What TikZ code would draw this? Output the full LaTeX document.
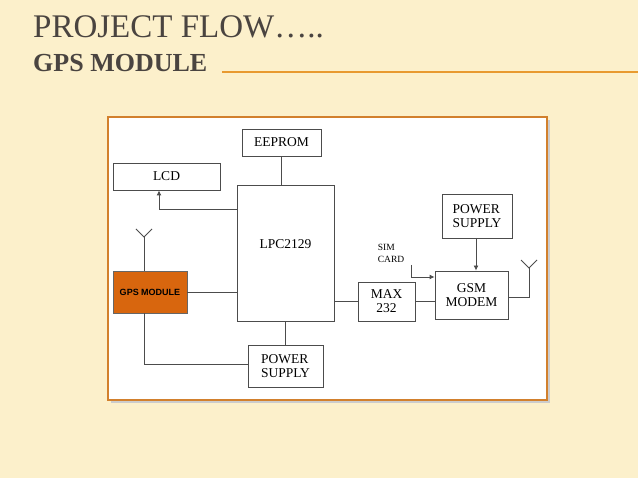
\documentclass[tikz,border=0pt]{standalone}
\usepackage{fontspec}
\setmainfont{Liberation Serif}
\newfontfamily\arialf{Liberation Sans}
\usetikzlibrary{arrows.meta}
\definecolor{bgc}{HTML}{FCF0CB}
\definecolor{gpsc}{HTML}{D8660E}
\definecolor{titc}{HTML}{4A4440}
\definecolor{linec}{HTML}{E89A30}
\tikzset{
  blk/.style={draw=black!70,line width=0.9pt,fill=white,inner sep=0pt,font=\fontsize{13.5}{14}\selectfont,align=left},
  wire/.style={draw=black!70,line width=0.9pt},
  arr/.style={wire,-{Latex[length=5pt,width=5pt]}}
}
\begin{document}
\begin{tikzpicture}[x=1pt,y=-1pt]
\useasboundingbox (0,0) rectangle (638,478);
\fill[bgc] (0,0) rectangle (638,478);
\node[anchor=base west,text=titc,font=\fontsize{33}{33}\selectfont,inner sep=0pt] (t1) at (33,38) {PROJECT FLOW…..};
\node[anchor=base west,text=titc,font=\fontsize{26}{26}\selectfont\bfseries,inner sep=0pt] (t2) at (33,72) {GPS MODULE};
\coordinate (l1) at (222,72); \coordinate (l2) at (638,72);
\draw[linec,line width=1.2pt] (l1) -- (l2);
\fill[black!20] (111,120) rectangle (550,403);
\draw[fill=white,draw=brown!70!orange,line width=1.8pt] (108,117) rectangle (547,400);
% blocks
\node[blk,minimum width=79,minimum height=27] (ee) at (281.5,142.5) {EEPROM};
\node[blk,minimum width=107,minimum height=27] (lcd) at (166.5,176.5) {LCD};
\node[blk,minimum width=97,minimum height=136] (lpc) at (285.5,253) {};
\node[font=\fontsize{13.5}{14}\selectfont] (lpct) at (285.5,244) {LPC2129};
\node[draw=black!60,fill=gpsc,minimum width=74,minimum height=42,inner sep=0pt,font=\arialf\bfseries\fontsize{9}{10}\selectfont] (gps) at (150,292) {GPS MODULE};
\node[blk,minimum width=75,minimum height=42,align=left] (ps1) at (285.5,366) {POWER\\SUPPLY};
\node[blk,minimum width=57,minimum height=39,align=center] (max) at (386.5,301.5) {MAX\\232};
\node[blk,minimum width=73,minimum height=48,align=center] (gsm) at (471.5,295) {GSM\\MODEM};
\node[blk,minimum width=70,minimum height=44] (ps2) at (477,216) {POWER\\SUPPLY};
\node[font=\fontsize{9.5}{12}\selectfont,align=left,inner sep=0pt] (sim) at (391,253) {SIM\\CARD};
% connections
\draw[wire] (ee.south) -- (lpc.north -| ee.south);
\coordinate (lcdk) at (159,209);
\draw[arr] (lpc.west |- lcdk) -- (lcdk) -- (lcd.south -| lcdk);
\draw[wire] (gps.east) -- (gps.east -| lpc.west);
\draw[wire] (lpc.south -| ps1.north) -- (ps1.north);
\coordinate (gb) at (144,364);
\draw[wire] (gps.south -| gb) -- (gb) -- (ps1.west |- gb);
\draw[wire] (lpc.east |- max.west) -- (max.west);
\draw[wire] (max.east) -- (max.east -| gsm.west);
\coordinate (psa) at (476,238);
\draw[arr] (psa) -- (gsm.north -| psa);
\coordinate (s1) at (411,265); \coordinate (s2) at (411,277);
\draw[arr] (s1) -- (s2) -- (gsm.west |- s2);
% GPS antenna
\coordinate (ga) at (144,237); \coordinate (gal) at (136,229); \coordinate (gar) at (152,229);
\draw[wire] (gps.north -| ga) -- (ga);
\draw[wire] (gal) -- (ga) -- (gar);
% GSM antenna
\coordinate (ma0) at (529,297); \coordinate (ma) at (529,268);
\coordinate (mal) at (521,260); \coordinate (mar) at (537,260);
\draw[wire] (gsm.east |- ma0) -- (ma0) -- (ma);
\draw[wire] (mal) -- (ma) -- (mar);
\end{tikzpicture}
\end{document}
